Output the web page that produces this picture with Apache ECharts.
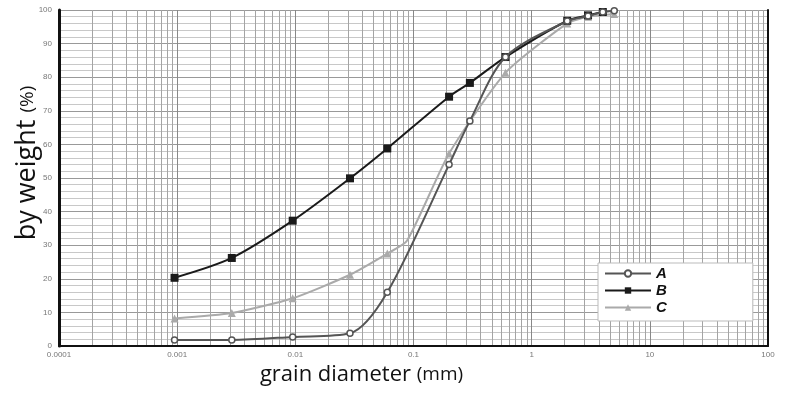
<!DOCTYPE html>
<html>
<head>
<meta charset="utf-8">
<script src="https://cdn.jsdelivr.net/npm/echarts@6/dist/echarts.min.js"></script>
<style>html,body{margin:0;padding:0;background:#fff;}#c{width:793px;height:393px;}</style>
</head>
<body>
<div id="c"></div>
<script>
// grain diameters (mm) and percent passing by weight
const xA = [0.00095, 0.0029, 0.0095, 0.029, 0.06, 0.2, 0.3, 0.6, 2, 3, 4, 5];
const yA = [1.8, 1.8, 2.7, 3.8, 16, 54, 67, 86, 96.7, 98.2, 99.4, 99.8];
const xB = [0.00095, 0.0029, 0.0095, 0.029, 0.06, 0.2, 0.3, 0.6, 2, 3, 4];
const yB = [20.3, 26.2, 37.3, 49.9, 58.8, 74.2, 78.3, 86, 96.8, 98.4, 99.4];
const xC = [0.00095, 0.0029, 0.0095, 0.029, 0.06, 0.088, 0.2, 0.6, 2, 3, 5];
const yC = [8.2, 9.8, 14.2, 21.2, 27.5, 31.3, 57.3, 81.3, 96, 98, 98.8];
const cHidden = [false, false, false, false, false, true, false, false, false, false, false];
const xTickLabels = ['0.0001', '0.001', '0.01', '0.1', '1', '10', '100'];
const seriesNames = ['A', 'B', 'C'];

function pairs(xs, ys, hidden) {
  return xs.map((x, i) => hidden && hidden[i] ? {value: [x, ys[i]], symbol: 'none'} : [x, ys[i]]);
}

const chart = echarts.init(document.getElementById('c'), null, {renderer: 'canvas'});
chart.setOption({
  animation: false,
  backgroundColor: '#fff',
  grid: {left: 59, right: 25, top: 10, bottom: 47, containLabel: false, outerBoundsMode: 'none'},
  xAxis: {
    type: 'log', logBase: 10, min: 0.0001, max: 100,
    axisLine: {show: true, lineStyle: {color: '#111', width: 2}},
    axisTick: {show: false},
    axisLabel: {
      color: '#777', fontSize: 8, fontFamily: 'Liberation Sans', margin: 5,
      formatter: function (v) {
        const i = Math.round(Math.log10(v)) + 4;
        return xTickLabels[i] !== undefined ? xTickLabels[i] : '';
      }
    },
    splitLine: {show: true, lineStyle: {color: '#888', width: 1}},
    minorTick: {show: false, splitNumber: 10},
    minorSplitLine: {show: true, lineStyle: {color: '#a4a4a4', width: 1}},
    name: '{a|grain diameter }{b|(mm)}',
    nameLocation: 'middle',
    nameMoveOverlap: false,
    nameGap: 18,
    nameTextStyle: {
      padding: [0, 104, 0, 0],
      rich: {
        a: {fontSize: 22, fontFamily: 'Open Sans', color: '#111'},
        b: {fontSize: 19, fontFamily: 'Open Sans', color: '#111'}
      }
    }
  },
  yAxis: [{
    type: 'value', min: 0, max: 100, interval: 10,
    axisLine: {show: true, lineStyle: {color: '#111', width: 3}},
    axisTick: {show: false},
    axisLabel: {color: '#777', fontSize: 8, fontFamily: 'Liberation Sans', margin: 7},
    splitLine: {show: true, lineStyle: {color: '#999', width: 1}},
    minorTick: {show: false, splitNumber: 5},
    minorSplitLine: {show: true, lineStyle: {color: '#c8c8c8', width: 1}},
    name: '{a|by weight }{b|(%)}',
    nameLocation: 'middle',
    nameRotate: 90,
    nameMoveOverlap: false,
    nameGap: 18,
    nameTextStyle: {
      padding: [0, 0, 0, 30],
      rich: {
        a: {fontSize: 27, fontFamily: 'Open Sans', color: '#111'},
        b: {fontSize: 19, fontFamily: 'Open Sans', color: '#111'}
      }
    }
  }, {
    type: 'value', min: 0, max: 100, position: 'right',
    axisLine: {show: true, lineStyle: {color: '#111', width: 2}},
    axisTick: {show: false}, axisLabel: {show: false}, splitLine: {show: false}
  }],
  legend: {
    show: true, orient: 'vertical', left: 598, top: 263,
    itemWidth: 46, itemHeight: 8, itemGap: 2,
    backgroundColor: '#fff', borderColor: '#bbb', borderWidth: 1,
    padding: [3, 86, 6, 6],
    textStyle: {fontSize: 15, lineHeight: 14, fontWeight: 'bold', fontStyle: 'italic', color: '#111', fontFamily: 'Liberation Sans'},
    data: seriesNames
  },
  series: [
    {
      name: seriesNames[0], type: 'line', data: pairs(xA, yA), smooth: 0.3,
      symbol: 'circle', symbolSize: 6,
      lineStyle: {color: '#555', width: 2},
      itemStyle: {color: '#fff', borderColor: '#555', borderWidth: 1.5},
      z: 4
    },
    {
      name: seriesNames[1], type: 'line', data: pairs(xB, yB), smooth: 0.3,
      symbol: 'rect', symbolSize: 8,
      lineStyle: {color: '#1a1a1a', width: 2},
      itemStyle: {color: '#1a1a1a'},
      z: 3
    },
    {
      name: seriesNames[2], type: 'line', data: pairs(xC, yC, cHidden), smooth: 0.2,
      symbol: 'triangle', symbolSize: 8,
      lineStyle: {color: '#aaa', width: 2},
      itemStyle: {color: '#aaa'},
      z: 2
    }
  ]
});
</script>
</body>
</html>
